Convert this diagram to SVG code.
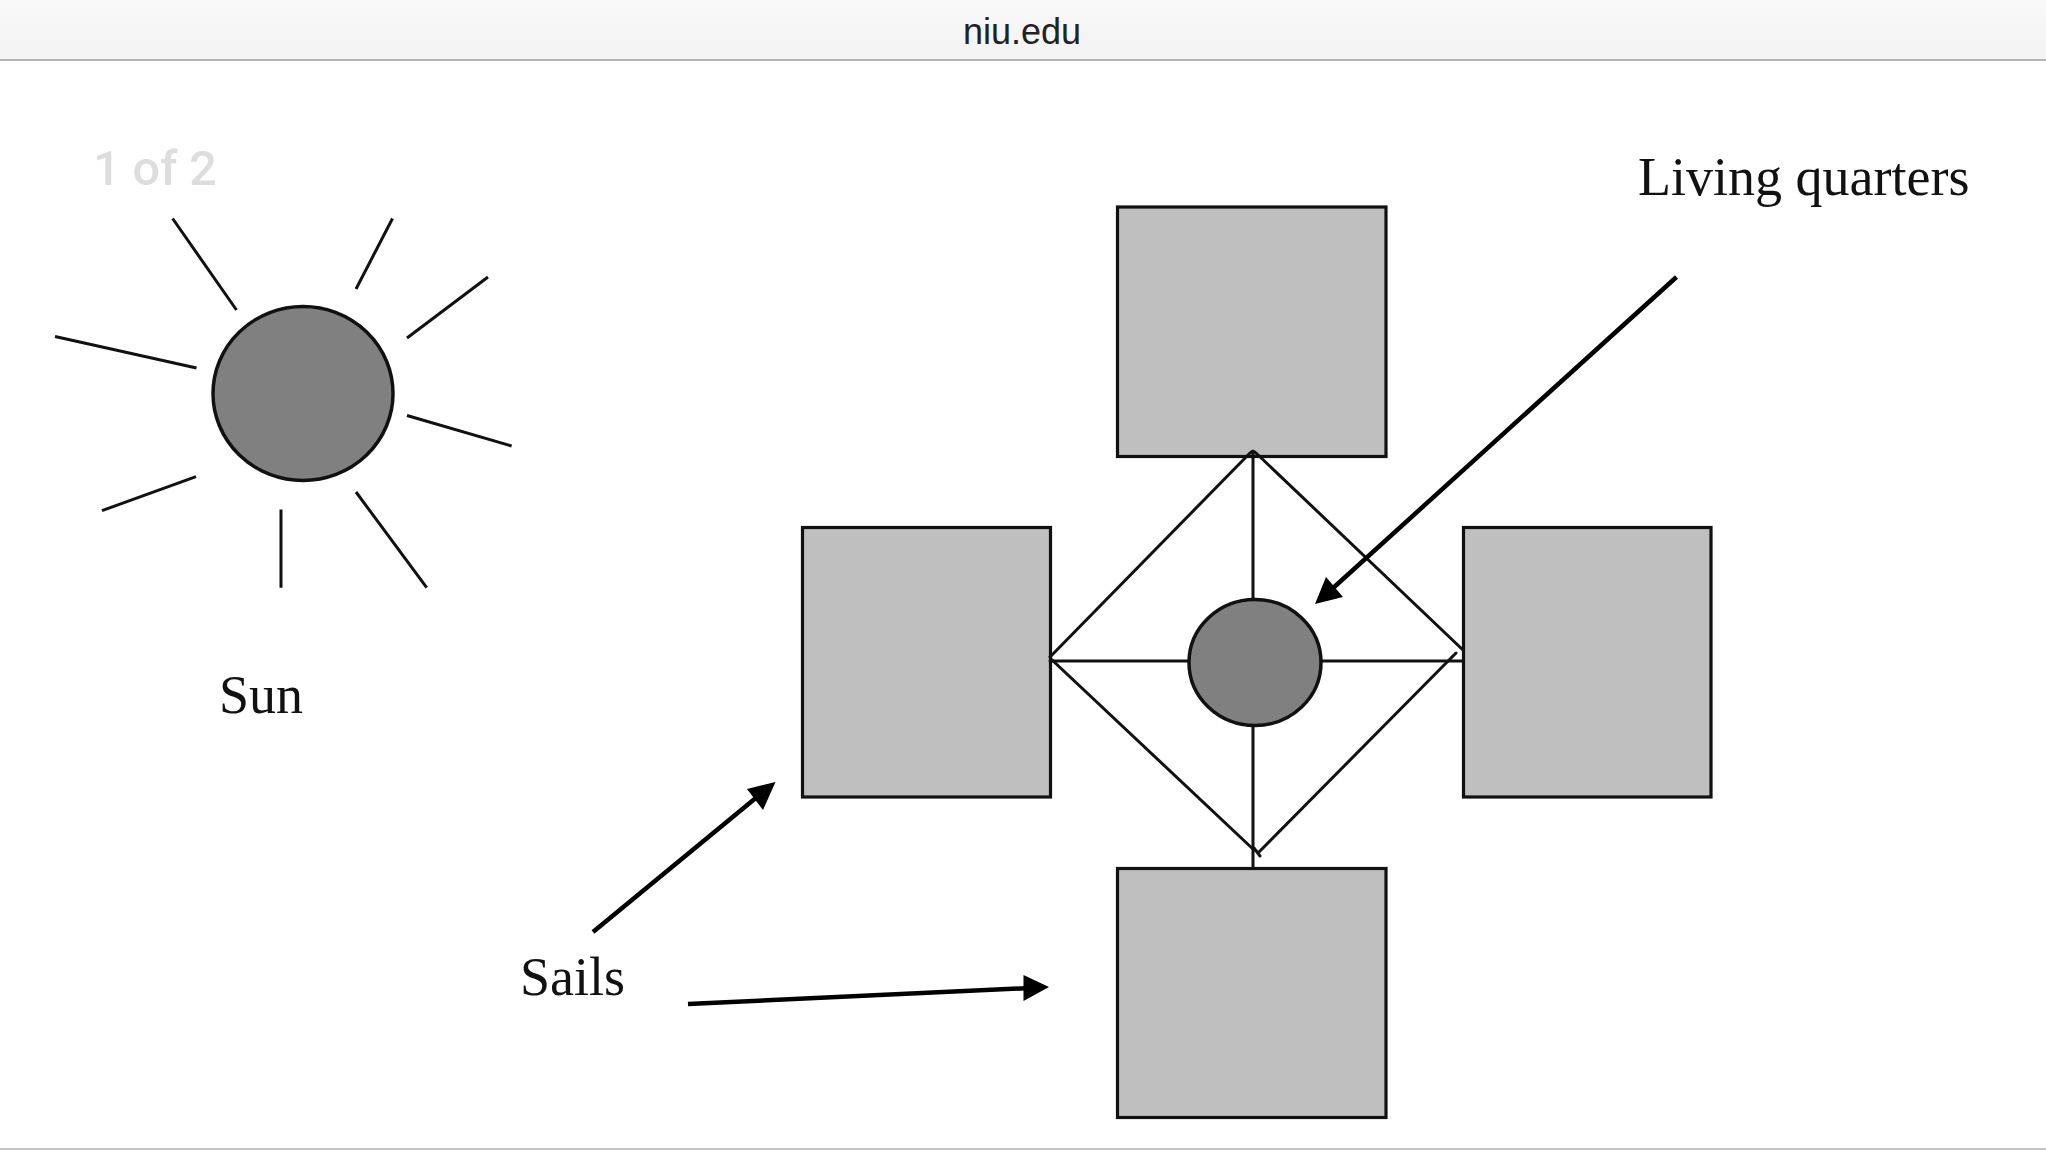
<svg xmlns="http://www.w3.org/2000/svg" width="2046" height="1150" viewBox="0 0 2046 1150">
<defs>
<linearGradient id="bar" x1="0" y1="0" x2="0" y2="1"><stop offset="0" stop-color="#f9f9f9"/><stop offset="1" stop-color="#f3f3f3"/></linearGradient>
</defs>
<style>
.sail{fill:#bfbfbf;stroke:#111;stroke-width:3.2}
.hub{fill:#808080;stroke:#111;stroke-width:3.5}
.ln{stroke:#111;stroke-width:3;stroke-linecap:round;fill:none}
.ray{stroke:#111;stroke-width:3;fill:none}
.arr{stroke:#000;stroke-width:4.5;fill:none}
.head{fill:#000}
.lbl{font-family:"Liberation Serif",serif;font-size:54px;fill:#111}
</style>
<rect width="2046" height="1150" fill="#fff"/>
<g id="chrome">
<rect width="2046" height="60" fill="url(#bar)"/>
<line x1="0" y1="60" x2="2046" y2="60" stroke="#b4b4b4" stroke-width="2"/>
<line x1="0" y1="1149" x2="2046" y2="1149" stroke="#c4c4c4" stroke-width="2"/>
<text x="1022" y="44" text-anchor="middle" font-family="'Liberation Sans',sans-serif" font-size="36" fill="#222">niu.edu</text>
<text x="93" y="185" font-family="Roboto,sans-serif" font-weight="500" font-size="48.500" fill="#dddddd">1 of 2</text>
</g>
<g id="sail-top"><rect class="sail" x="1117.500" y="207" width="268.500" height="249.500"/></g>
<g id="sail-left"><rect class="sail" x="802.500" y="527.500" width="248" height="269.500"/></g>
<g id="sail-right"><rect class="sail" x="1463.500" y="527.500" width="247.500" height="269.500"/></g>
<g id="sail-bottom"><rect class="sail" x="1117.500" y="868.500" width="268.500" height="249"/></g>
<g id="connectors">
<path class="ln" d="M1253 451V600M1253 726V868M1050 661H1190M1322 661H1463"/>
<path class="ln" d="M1050 657L1250 453Q1253 450 1256 453L1463 650M1051 659L1254 850M1258 853L1456 653M1254 848L1260 856"/>
<path class="ray" d="M172.600 218.500L236.500 310M392.500 218.500L356 289M488 277L407 338M55 336.500L196.500 368M407 415.500L511.600 446M196 476.600L102 510.600M281 509.600V587.700M356 492L426.700 587.700"/>
<line class="arr" x1="1676.500" y1="277" x2="1332" y2="589"/>
<polygon class="head" points="1315,604 1326,577 1343,597"/>
<line class="arr" x1="593" y1="932" x2="757" y2="797"/>
<polygon class="head" points="775.500,782 747,789 763,810"/>
<line class="arr" x1="688" y1="1004" x2="1030" y2="988"/>
<polygon class="head" points="1049,987 1023.500,975 1023.500,1001"/>
</g>
<g id="living-quarters"><ellipse class="hub" cx="1255" cy="662.500" rx="66" ry="63"/></g>
<g id="sun"><ellipse class="hub" cx="303" cy="393.500" rx="90" ry="87"/></g>
<g id="label-sun"><text class="lbl" x="219" y="713">Sun</text></g>
<g id="label-living"><text class="lbl" x="1638" y="195">Living quarters</text></g>
<g id="label-sails"><text class="lbl" x="520" y="995">Sails</text></g>
</svg>
